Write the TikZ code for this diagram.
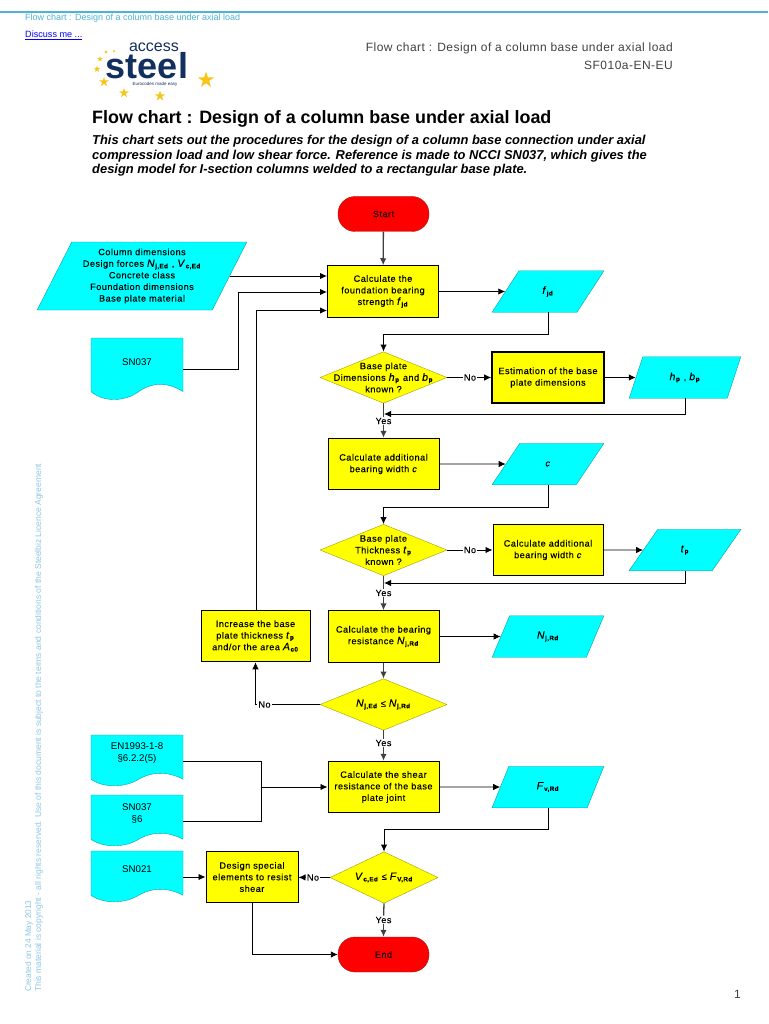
\documentclass[tikz,border=0pt]{standalone}
\usepackage{fontspec}
\setmainfont{Liberation Sans}
\newfontfamily\flowfont[LetterSpace=5.5,FakeBold=0.2]{Liberation Sans}
\newfontfamily\headfont[LetterSpace=4]{Liberation Sans}
\usetikzlibrary{shapes.geometric,arrows.meta}

\definecolor{datacyan}{HTML}{00FFFF}
\definecolor{procyellow}{HTML}{FFFF00}
\definecolor{termred}{HTML}{FF0000}
\definecolor{termtext}{HTML}{200000}
\definecolor{tealedge}{HTML}{109CA8}
\definecolor{oliveedge}{HTML}{A09C10}
\definecolor{rededge}{HTML}{A01818}
\definecolor{headblue}{HTML}{4FB3D4}
\definecolor{sideblue}{HTML}{8CC6E4}
\definecolor{logonavy}{HTML}{12305F}
\definecolor{stargold}{HTML}{F5C518}

\tikzset{
  boxtext/.style={font=\flowfont\fontsize{9.1}{11.6}\selectfont, align=center, inner sep=0pt},
  calcbox/.style={boxtext, draw=black, fill=procyellow, line width=1pt, minimum width=111pt, minimum height=51.5pt},
  terminal/.style={boxtext, draw=rededge, fill=termred, text=termtext, rounded corners=17pt, minimum width=91pt, minimum height=35pt},
  datashape/.style={boxtext, draw=tealedge, fill=datacyan, trapezium, trapezium left angle=63.4, trapezium right angle=116.6,
    trapezium stretches=true, minimum width=112pt, minimum height=41.5pt},
  decision/.style={draw=oliveedge, fill=procyellow, diamond, inner sep=0pt, minimum width=127pt, minimum height=51.5pt, aspect=2.5},
  flowlabel/.style={font=\flowfont\fontsize{9.1}{11}\selectfont, inner sep=1pt},
  flow/.style={-{Latex[length=7pt,width=6.5pt]}, line width=0.9pt},
  mainflow/.style={-{Latex[length=7pt,width=6.5pt]}, draw=black!75, line width=1.3pt},
  plainflow/.style={line width=0.9pt},
  mainstub/.style={draw=black!75, line width=1.3pt}
}

% document shape: name, top, bottom, text
\newcommand{\docshape}[4]{
  \pgfmathsetmacro{\doch}{#3-#2}
  \draw[draw=tealedge, fill=datacyan] (91,#2) -- (183,#2) -- (183,{#3-0.15*\doch})
    .. controls (168,{#3-0.30*\doch}) and (152,{#3-0.31*\doch}) .. (137,{#3-0.13*\doch})
    .. controls (124,{#3+0.01*\doch}) and (103,{#3+0.02*\doch}) .. (91,{#3-0.15*\doch}) -- cycle;
  \node (#1) [minimum width=92pt, minimum height=\doch pt, inner sep=0pt,
    label={[boxtext, font=\fontsize{9.7}{12}\selectfont, yshift=7.5pt]center:#4}] at (137,{(#2+#3)/2}) {};
}
\newcommand{\symsub}[2]{{\fontsize{10.5}{11.6}\selectfont\textit{#1}}\textsubscript{\textbf{#2}}}

\begin{document}
\begin{tikzpicture}[x=1pt,y=-1pt]
  \useasboundingbox (0,0) rectangle (768,1024);

  % Page header
  \draw[color=headblue, line width=1.3pt] (0,12) -- (768,12);
  \node (toptitle) at (25,18) [anchor=west, inner sep=0pt, text=headblue, font=\fontsize{9}{10}\selectfont] {Flow chart : Design of a column base under axial load};
  \node (discuss) at (25,35) [anchor=west, inner sep=0pt, text=blue, font=\fontsize{9.1}{10}\selectfont] {\underline{Discuss me ...}};
  \node (headtitle) at (673,48) [anchor=east, inner sep=0pt, text=black!75, font=\headfont\fontsize{12}{13}\selectfont] {Flow chart : Design of a column base under axial load};
  \node (headref) at (673,65) [anchor=east, inner sep=0pt, text=black!75, font=\headfont\fontsize{12}{13}\selectfont] {SF010a-EN-EU};

  % Logo
  \node (logoa) at (154,47) [inner sep=0pt, text=logonavy, font=\fontsize{16}{16}\selectfont] {access};
  \node (logos) at (147,66) [inner sep=0pt, text=logonavy, font=\bfseries\fontsize{36}{36}\selectfont] {steel};
  \node (logoc) at (155,84) [inner sep=0pt, text=logonavy, font=\fontsize{4.5}{5}\selectfont] {Eurocodes made easy};
  \foreach \sx/\sy/\ss in {206/80/17, 160/96/11, 124/93/10, 104/82/10, 97/69/7, 100/59/6, 106/52/4, 114/51/3}
    \node (star\sx) at (\sx,\sy) [star, star points=5, star point ratio=2.6, fill=stargold, inner sep=0pt, minimum size=\ss pt] {};

  % Title
  \node (title) at (92,119) [anchor=west, inner sep=0pt, font=\bfseries\fontsize{17.9}{20}\selectfont] {Flow chart : Design of a column base under axial load};
  \node (intro) at (92,156) [anchor=west, inner sep=0pt, align=left, font=\bfseries\itshape\fontsize{12.9}{14.6}\selectfont]
    {This chart sets out the procedures for the design of a column base connection under axial\\
     compression load and low shear force. Reference is made to NCCI SN037, which gives the\\
     design model for I-section columns welded to a rectangular base plate.};

  % Side text
  \node (sidea) at (29,992) [rotate=90, anchor=west, inner sep=0pt, text=sideblue, font=\fontsize{8.3}{9}\selectfont] {Created on 24 May 2013};
  \node (sideb) at (39,992) [rotate=90, anchor=west, inner sep=0pt, text=sideblue, font=\fontsize{8.5}{9}\selectfont] {This material is copyright - all rights reserved. Use of this document is subject to the terms and conditions of the Steelbiz Licence Agreement};
  \node (pagenum) at (737.5,994) [inner sep=0pt, text=black!75, font=\fontsize{12}{13}\selectfont] {1};

  % Main column
  \node (start) at (383.5,214) [terminal] {Start};
  \node (fnd) at (383,291.5) [calcbox] {Calculate the\\foundation bearing\\strength \symsub{f}{jd}};
  \node (dia1) at (383.5,377.5) [decision, label={[boxtext]center:Base plate\\Dimensions \symsub{h}{p} and \symsub{b}{p}\\known ?}] {};
  \node (addc) at (383.5,464) [calcbox] {Calculate additional\\bearing width \textit{c}};
  \node (dia2) at (383.5,550) [decision, label={[boxtext]center:Base plate\\Thickness \symsub{t}{p}\\known ?}] {};
  \node (bear) at (383.5,636.5) [calcbox] {Calculate the bearing\\resistance \symsub{N}{j,Rd}};
  \node (dia3) at (383.5,704.5) [decision, label={[boxtext]center:\symsub{N}{j,Ed} ≤ \symsub{N}{j,Rd}}] {};
  \node (shear) at (383.5,787) [calcbox] {Calculate the shear\\resistance of the base\\plate joint};
  \node (dia4) at (384,877.5) [decision, minimum width=108pt, aspect=2.1, label={[boxtext]center:\symsub{V}{c,Ed} ≤ \symsub{F}{V,Rd}}] {};
  \node (end) at (383.5,954.5) [terminal] {End};

  % Right column
  \node (fjd) at (548,291.5) [datashape] {\symsub{f}{jd}};
  \node (est) at (548,377.5) [calcbox, line width=1.6pt, minimum width=112pt] {Estimation of the base\\plate dimensions};
  \node (hpbp) at (685,377.5) [datashape] {\symsub{h}{p} , \symsub{b}{p}};
  \node (cval) at (548,464) [datashape] {\textit{c}};
  \node (addc2) at (548,550) [calcbox, minimum width=110pt] {Calculate additional\\bearing width \textit{c}};
  \node (tp) at (685,550) [datashape] {\symsub{t}{p}};
  \node (njrd) at (548,636.5) [datashape] {\symsub{N}{j,Rd}};
  \node (fvrd) at (548,787) [datashape] {\symsub{F}{v,Rd}};

  % Left column
  \node (inputs) at (142,276) [datashape, minimum width=210pt, minimum height=68pt, trapezium left angle=62.1, trapezium right angle=117.9]
    {Column dimensions\\Design forces \symsub{N}{j,Ed} , \symsub{V}{c,Ed}\\Concrete class\\Foundation dimensions\\Base plate material};
  \docshape{sna}{338}{401}{SN037}
  \node (incr) at (255.5,636) [calcbox, minimum width=109pt] {Increase the base\\plate thickness \symsub{t}{p}\\and/or the area \symsub{A}{c0}};
  \docshape{enb}{735}{787}{EN1993-1-8\\§6.2.2(5)}
  \docshape{snb}{795}{847}{SN037\\§6}
  \docshape{snc}{851}{903}{SN021}
  \node (spec) at (252,877) [calcbox, minimum width=92pt] {Design special\\elements to resist\\shear};

  % Yes and No
  \node (yes1) at (383.5,421) [flowlabel] {Yes};
  \node (yes2) at (383.5,593) [flowlabel] {Yes};
  \node (yes3) at (383.5,743) [flowlabel] {Yes};
  \node (yes4) at (383.5,920) [flowlabel] {Yes};
  \node (no1) at (470,377.5) [flowlabel] {No};
  \node (no2) at (470,550) [flowlabel] {No};
  \node (no3) at (264.5,704.5) [flowlabel] {No};
  \node (no4) at (313,877.5) [flowlabel] {No};

  % Bends
  \coordinate (bendsn) at (238,292);
  \coordinate (bendloop) at (256,310.5);
  \coordinate (bendfjd) at (383.5,334);
  \coordinate (mergea) at (384,414);
  \coordinate (bendc) at (383.5,507);
  \coordinate (mergeb) at (384,583);
  \coordinate (joinen) at (261,787);
  \coordinate (bendfv) at (384,829);

  % Connectors
  \draw[mainflow] (start) -- (fnd);
  \draw[flow] (inputs.east) -- (inputs.east -| fnd.west);
  \draw[flow] (sna.east) -| (bendsn) -- (bendsn -| fnd.west);
  \draw[flow] (incr.north -| bendloop) -- (bendloop) -- (bendloop -| fnd.west);
  \draw[flow] (fnd) -- (fjd.west);
  \draw[flow] (fjd.south) |- (bendfjd) -- (dia1.north);
  \draw[plainflow] (dia1.east) -- (no1);
  \draw[flow] (no1) -- (est);
  \draw[flow] (est) -- (hpbp.west);
  \draw[flow] (hpbp.south) |- (mergea);
  \draw[mainstub] (dia1.south) -- (yes1);
  \draw[mainflow] (yes1) -- (addc);
  \draw[flow] (addc) -- (cval.west);
  \draw[flow] (cval.south) |- (bendc) -- (dia2.north);
  \draw[plainflow] (dia2.east) -- (no2);
  \draw[flow] (no2) -- (addc2);
  \draw[flow] (addc2) -- (tp.west);
  \draw[flow] (tp.south) |- (mergeb);
  \draw[mainstub] (dia2.south) -- (yes2);
  \draw[mainflow] (yes2) -- (bear);
  \draw[flow] (bear) -- (njrd.west);
  \draw[mainflow] (bear) -- (dia3);
  \draw[plainflow] (dia3.west) -- (no3);
  \draw[flow] (no3.west) -| (incr.south);
  \draw[mainstub] (dia3.south) -- (yes3);
  \draw[mainflow] (yes3) -- (shear);
  \draw[plainflow] (enb.east) -| (joinen);
  \draw[plainflow] (snb.east) -| (joinen);
  \draw[flow] (joinen) -- (shear.west);
  \draw[flow] (shear) -- (fvrd.west);
  \draw[flow] (fvrd.south) |- (bendfv) -- (dia4.north);
  \draw[plainflow] (dia4.west) -- (no4);
  \draw[flow] (no4) -- (spec);
  \draw[flow] (snc.east) -- (spec);
  \draw[mainstub] (dia4.south) -- (yes4);
  \draw[mainflow] (yes4) -- (end);
  \draw[flow] (spec.south) |- (end.west);
\end{tikzpicture}
\end{document}
